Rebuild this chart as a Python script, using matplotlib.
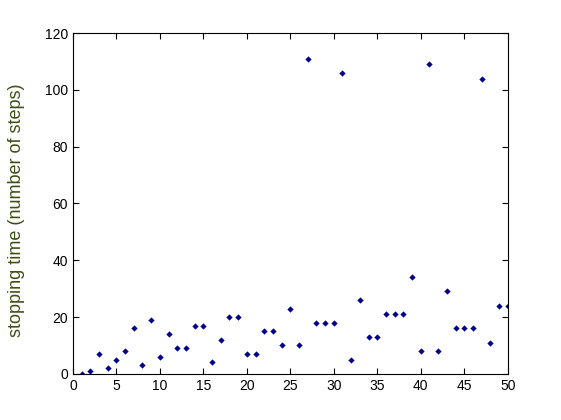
import matplotlib
matplotlib.use('Agg')
import matplotlib.pyplot as plt

n_values = list(range(1, 51))
stop_steps = [0, 1, 7, 2, 5, 8, 16, 3, 19, 6,
              14, 9, 9, 17, 17, 4, 12, 20, 20, 7,
              7, 15, 15, 10, 23, 10, 111, 18, 18, 18,
              106, 5, 26, 13, 13, 21, 21, 21, 34, 8,
              109, 8, 29, 16, 16, 16, 104, 11, 24, 24]

plt.rcParams['font.family'] = ['Liberation Sans', 'DejaVu Sans']

fig = plt.figure(figsize=(5.61, 4.2), dpi=100)
ax = fig.add_axes([0.13, 0.11, 0.775, 0.811])
ax.plot(n_values, stop_steps, 'D', color='#00008B', markersize=3.2, markeredgewidth=0)

ax.set_xlim(0, 50)
ax.set_ylim(0, 120)
ax.set_xticks(range(0, 51, 5))
ax.set_yticks(range(0, 121, 20))
ax.tick_params(direction='in', top=True, right=True, labelsize=10, length=4)
ax.set_ylabel('stopping time (number of steps)', fontsize=13, color='#3c5014')
ax.yaxis.set_label_coords(-0.11, 0.481)
for s in ax.spines.values():
    s.set_linewidth(0.8)

fig.savefig('out.png', dpi=100)
